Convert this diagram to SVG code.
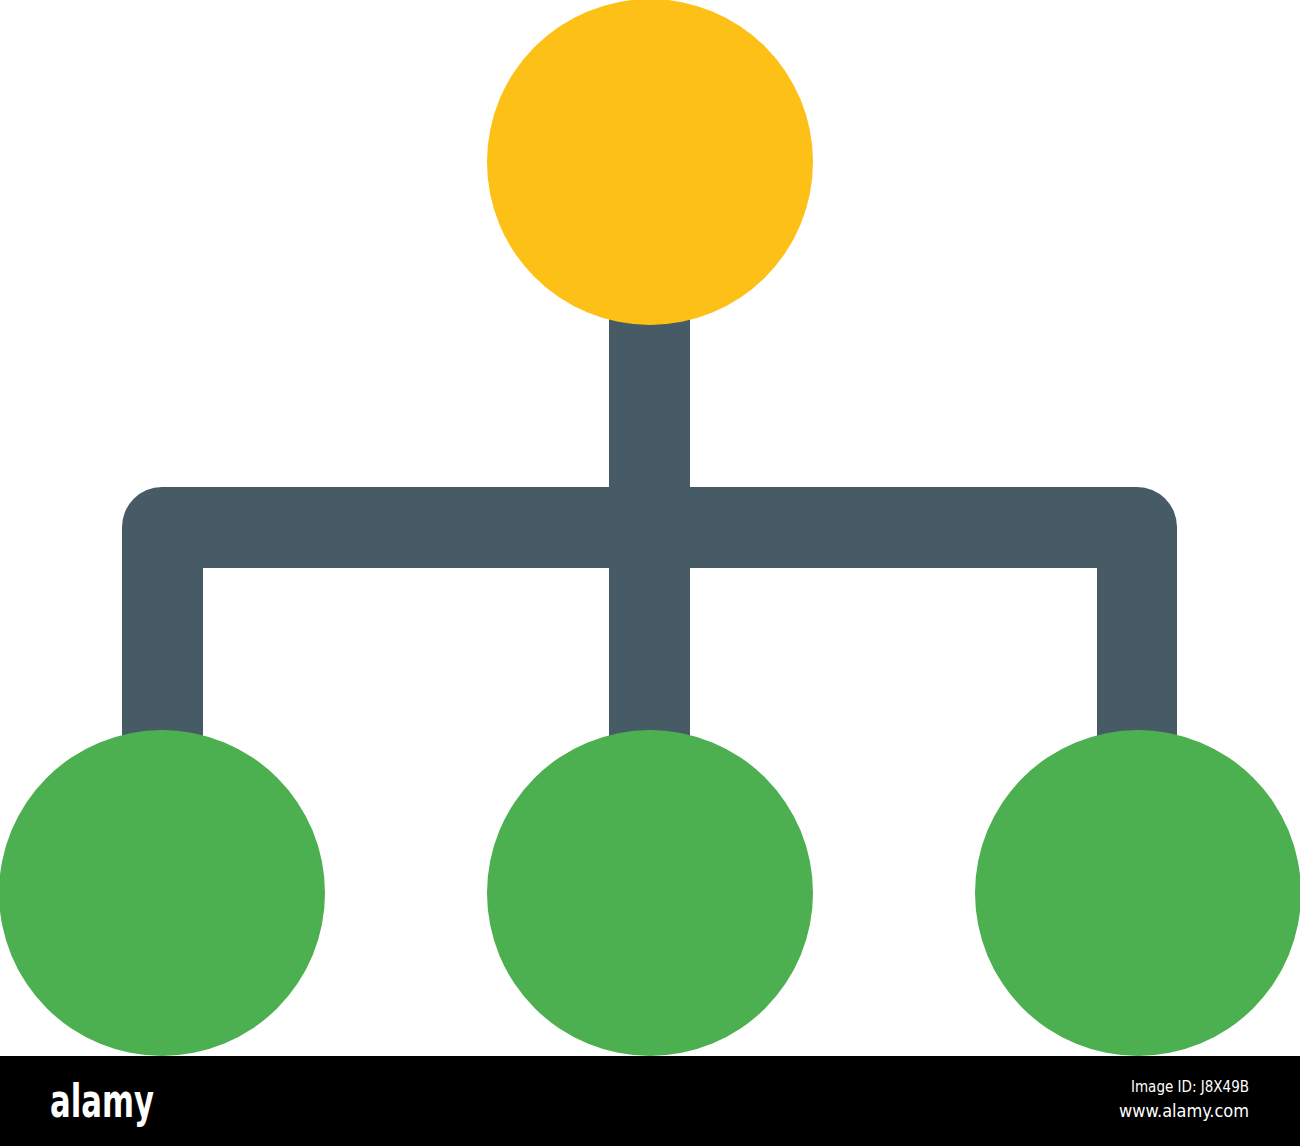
<svg xmlns="http://www.w3.org/2000/svg" width="1300" height="1146" viewBox="0 0 1300 1146">
<style>
.leaf{fill:#4CAF50}
.link{fill:#475B67}
.brand{font-family:"Liberation Sans Narrow","DejaVu Sans Condensed","Liberation Sans",sans-serif;fill:#fff}
</style>
<rect width="1300" height="1146" fill="#fff"/>
<g id="connectors">
<path class="link" d="M609 300 H690 V487 H1137 A40 40 0 0 1 1177 527 V760 H1097 V568 H690 V760 H609 V568 H203 V760 H122 V527 A40 40 0 0 1 162 487 H609 Z"/>
</g>
<g id="root"><circle cx="650" cy="162" r="163" fill="#FCC016"/></g>
<g id="child-left"><circle class="leaf" cx="162" cy="893" r="163"/></g>
<g id="child-middle"><circle class="leaf" cx="650" cy="893" r="163"/></g>
<g id="child-right"><circle class="leaf" cx="1138" cy="893" r="163"/></g>
<g id="footer">
<rect x="0" y="1056" width="1300" height="90" fill="#000"/>
<text class="brand" x="50" y="1117" font-size="46" font-weight="bold" textLength="104" lengthAdjust="spacingAndGlyphs">alamy</text>
<text class="brand" x="1249" y="1092" font-size="15" text-anchor="end">Image ID: J8X49B</text>
<text class="brand" x="1249" y="1117" font-size="18" text-anchor="end">www.alamy.com</text>
</g>
</svg>
